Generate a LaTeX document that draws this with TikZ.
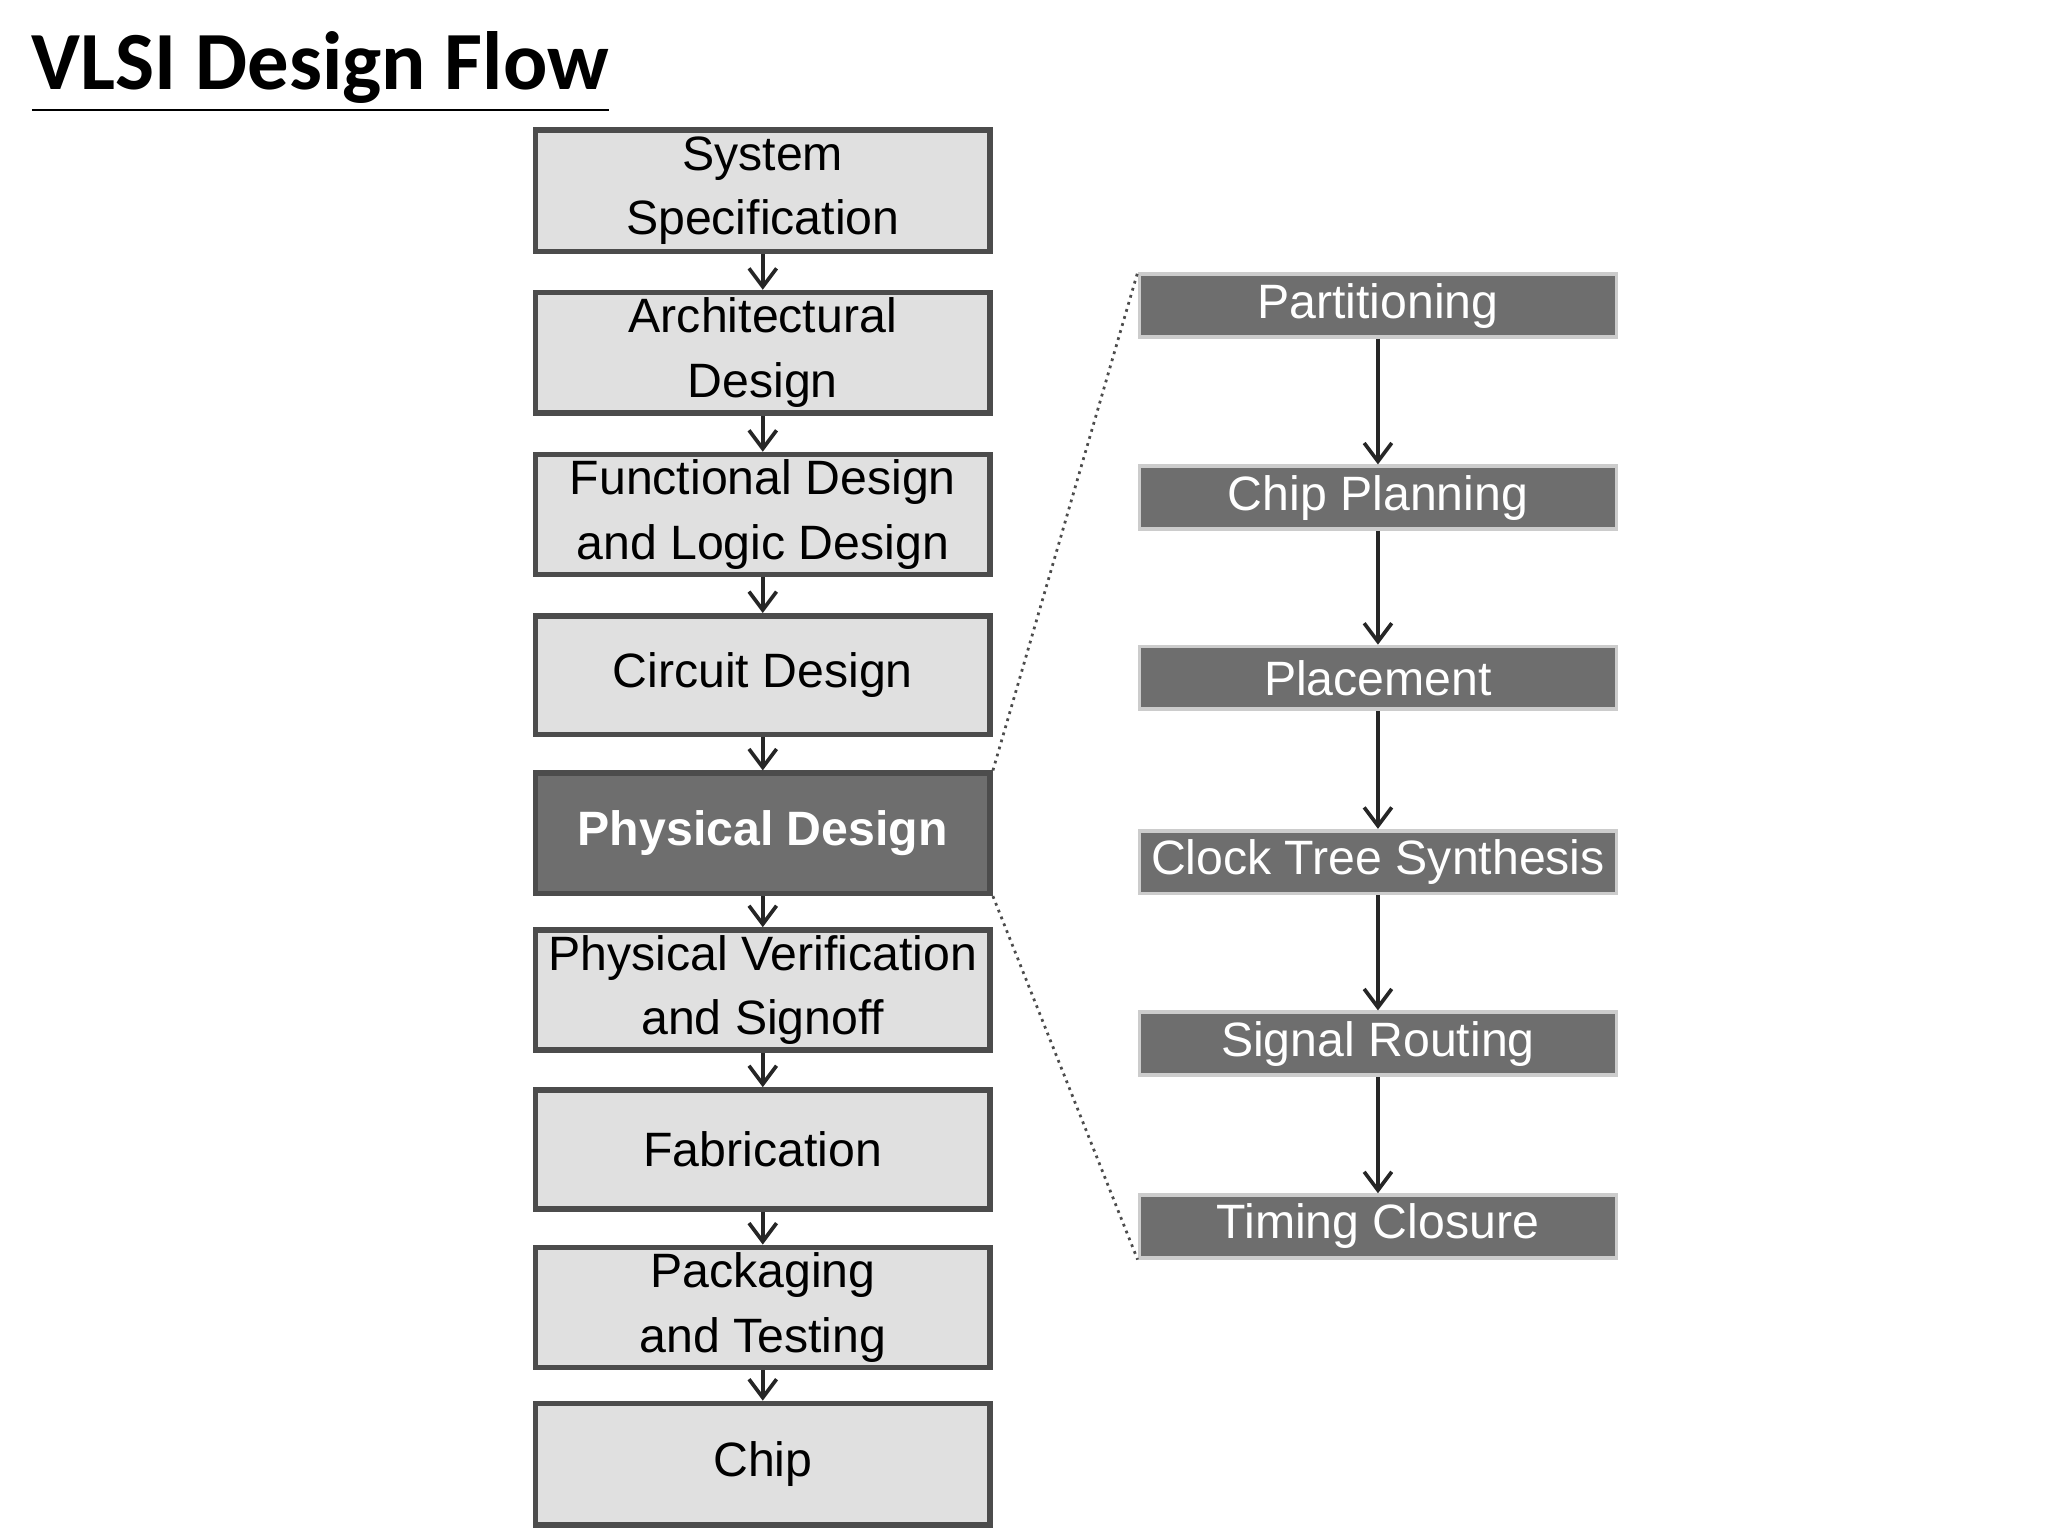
\documentclass[tikz,border=0pt]{standalone}
\usetikzlibrary{arrows.meta}
\usepackage{fontspec}
\setmainfont{Liberation Sans}
\newfontfamily\titlefont{Carlito}
\begin{document}
\begin{tikzpicture}[x=0.01cm,y=-0.01cm,
 lb/.style={draw=black!70,line width=1.2pt,fill=black!12,minimum width=3.48cm,align=center,font=\fontsize{10.5}{14}\selectfont,inner sep=0pt},
 db/.style={draw=black!20,line width=0.8pt,fill=black!57,text=white,minimum width=3.65cm,minimum height=0.48cm,font=\fontsize{10.5}{13}\selectfont,inner sep=0pt},
 ar/.style={-{Straight Barb[length=4pt,width=6pt]},line width=0.8pt,black!85}]
\useasboundingbox (0,0) rectangle (1568,1176);
\node[anchor=west,font=\titlefont\bfseries\fontsize{18}{20}\selectfont] (t) at (12,55) {\underline{VLSI Design Flow}};
\node[lb,minimum height=0.93cm] (a1) at (584,146) {System\\Specification};
\node[lb,minimum height=0.92cm] (a2) at (584,270) {Architectural\\Design};
\node[lb,minimum height=0.92cm] (a3) at (584,394) {Functional Design\\and Logic Design};
\node[lb,minimum height=0.91cm] (a4) at (584,517) {Circuit Design};
\node[lb,minimum height=0.92cm,fill=black!57,text=white,font=\bfseries\fontsize{10.5}{14}\selectfont] (a5) at (584,638) {Physical Design};
\node[lb,minimum height=0.92cm] (a6) at (584,758) {Physical Verification\\and Signoff};
\node[lb,minimum height=0.91cm] (a7) at (584,880) {Fabrication};
\node[lb,minimum height=0.92cm] (a8) at (584,1001) {Packaging\\and Testing};
\node[lb,minimum height=0.93cm] (a9) at (584,1121) {Chip};
\foreach \i/\j in {a1/a2,a2/a3,a3/a4,a4/a5,a5/a6,a6/a7,a7/a8,a8/a9}
  \draw[ar] (\i) -- (\j);
\node[db] (b1) at (1055,234) {Partitioning};
\node[db] (b2) at (1055,381) {Chip Planning};
\node[db] (b3) at (1055,519) {Placement};
\node[db] (b4) at (1055,660) {Clock Tree Synthesis};
\node[db] (b5) at (1055,799) {Signal Routing};
\node[db] (b6) at (1055,939) {Timing Closure};
\foreach \i/\j in {b1/b2,b2/b3,b3/b4,b4/b5,b5/b6}
  \draw[ar] (\i) -- (\j);
\draw[densely dotted,black!70,line width=0.6pt] (a5.north east) -- (b1.north west);
\draw[densely dotted,black!70,line width=0.6pt] (a5.south east) -- (b6.south west);
\end{tikzpicture}
\end{document}
